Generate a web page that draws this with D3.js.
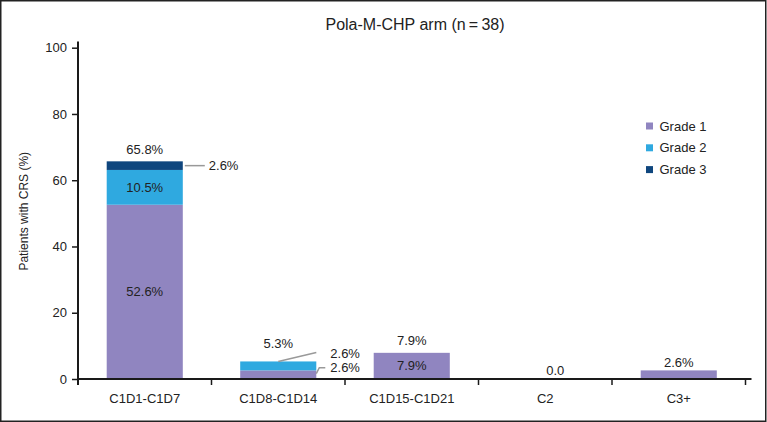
<!DOCTYPE html>
<html>
<head>
<meta charset="utf-8">
<script src="https://cdn.jsdelivr.net/npm/d3@7"></script>
<style>
  html, body { margin: 0; padding: 0; background: #fff; }
  svg { display: block; font-family: "Liberation Sans", Arial, Helvetica, sans-serif; }
  .tick text { font-size: 13px; fill: #222; }
</style>
</head>
<body>
<svg id="chart" width="767" height="422"></svg>
<script>
// data
const categories = ['C1D1-C1D7', 'C1D8-C1D14', 'C1D15-C1D21', 'C2', 'C3+'];
const grades = ['Grade 1', 'Grade 2', 'Grade 3'];
const grade1 = [52.6, 2.6, 7.9, 0, 2.6];
const grade2 = [10.5, 2.7, 0, 0, 0];
const grade3 = [2.6, 0, 0, 0, 0];
const grade1Labels = ['52.6%', '2.6%', '7.9%', '', ''];
const grade2Labels = ['10.5%', '2.6%', '', '', ''];
const grade3Labels = ['2.6%', '', '', '', ''];
const totalLabels = ['65.8%', '5.3%', '7.9%', '0.0', '2.6%'];
const yTicks = [0, 20, 40, 60, 80, 100];

const colors = ['#9085c0', '#2fa9e0', '#0f467e'];

const W = 767, H = 422;
const margin = { left: 78, right: 21.5, top: 47.7, bottom: 43 };

const svg = d3.select('#chart');

// frame round the picture
svg.append('rect')
  .attr('x', 0.75).attr('y', 0.75)
  .attr('width', W - 2).attr('height', H - 1.5)
  .attr('fill', 'none').attr('stroke', '#222').attr('stroke-width', 1.5);

const x = d3.scaleBand()
  .domain(categories)
  .range([margin.left, W - margin.right])
  .paddingInner(0.43)
  .paddingOuter(0.215);

const y = d3.scaleLinear()
  .domain([0, 100])
  .range([H - margin.bottom, margin.top]);

const rows = categories.map((c, i) => ({
  cat: c, 'Grade 1': grade1[i], 'Grade 2': grade2[i], 'Grade 3': grade3[i]
}));
const stacked = d3.stack().keys(grades)(rows);
const segLabels = [grade1Labels, grade2Labels, grade3Labels];

// title
svg.append('text')
  .attr('x', 415).attr('y', 30)
  .attr('text-anchor', 'middle')
  .style('font-size', '16px').attr('fill', '#222')
  .text('Pola-M-CHP arm (n\u2009=\u200938)');

// bars
svg.append('g').selectAll('g')
  .data(stacked)
  .join('g')
  .attr('fill', (d, i) => colors[i])
  .selectAll('rect')
  .data(d => d)
  .join('rect')
  .attr('x', d => x(d.data.cat))
  .attr('width', x.bandwidth())
  .attr('y', d => y(d[1]))
  .attr('height', d => Math.max(0, y(d[0]) - y(d[1])));

// labels inside segments or called out to the right
const labelG = svg.append('g').style('font-size', '13px').attr('fill', '#222');
const leaderG = svg.append('g').attr('stroke', '#999').attr('stroke-width', 1.5).attr('fill', 'none');

stacked.forEach((series, si) => {
  series.forEach((d, ci) => {
    const txt = segLabels[si][ci];
    if (!txt) return;
    const x0 = x(d.data.cat), x1 = x0 + x.bandwidth();
    const yTop = y(d[1]), yBot = y(d[0]);
    const yMid = (yTop + yBot) / 2;
    if (yBot - yTop > 12) {
      labelG.append('text')
        .attr('x', x0 + x.bandwidth() / 2).attr('y', yMid).attr('dy', '0.35em')
        .attr('text-anchor', 'middle').text(txt);
    } else if (si === 2) {
      leaderG.append('path').attr('d', `M${x1 + 2},${yMid}H${x1 + 22}`);
      labelG.append('text').attr('x', x1 + 26).attr('y', yMid).attr('dy', '0.35em').text(txt);
    } else if (si === 1) {
      leaderG.append('path').attr('d', `M${x0 + x.bandwidth() / 2},${yTop}L${x1},${yTop - 9}`);
      labelG.append('text').attr('x', x1 + 14).attr('y', yTop - 8).attr('dy', '0.35em').text(txt);
    } else {
      leaderG.append('path').attr('d', `M${x1},${yMid - 1}L${x1 + 3},${yMid - 7}H${x1 + 9}`);
      labelG.append('text').attr('x', x1 + 14).attr('y', yMid - 7).attr('dy', '0.35em').text(txt);
    }
  });
});

// totals above bars
const lift = [12, 18, 12, 9, 8];
const totals = stacked[stacked.length - 1];
labelG.selectAll('.total')
  .data(totals)
  .join('text')
  .attr('class', 'total')
  .attr('x', (d, i) => x(d.data.cat) + x.bandwidth() / 2 + (i === 3 ? 10 : 0))
  .attr('y', (d, i) => y(d[1]) - lift[i])
  .attr('dy', '0.35em')
  .attr('text-anchor', 'middle')
  .text((d, i) => totalLabels[i]);

// y axis
const yAxis = svg.append('g')
  .attr('transform', `translate(${margin.left},0)`)
  .call(d3.axisLeft(y).tickValues(yTicks).tickSize(6).tickPadding(5));
yAxis.select('.domain').remove();
yAxis.selectAll('.tick line').attr('stroke', '#1a1a1a').attr('stroke-width', 1.5);
svg.append('line')
  .attr('x1', margin.left).attr('x2', margin.left)
  .attr('y1', 41.5).attr('y2', y(0) + 6)
  .attr('stroke', '#1a1a1a').attr('stroke-width', 2);

// x axis
const xAxis = svg.append('g')
  .attr('transform', `translate(0,${y(0)})`)
  .call(d3.axisBottom(x).tickSize(0).tickPadding(15));
xAxis.select('.domain').remove();
svg.append('line')
  .attr('x1', margin.left).attr('x2', W - 15.5)
  .attr('y1', y(0)).attr('y2', y(0))
  .attr('stroke', '#1a1a1a').attr('stroke-width', 2);
const step = x.step();
const firstEdge = x(categories[0]) - (step - x.bandwidth()) / 2;
svg.append('g').selectAll('line')
  .data(d3.range(categories.length + 1))
  .join('line')
  .attr('x1', i => firstEdge + i * step).attr('x2', i => firstEdge + i * step)
  .attr('y1', y(0)).attr('y2', y(0) + 6)
  .attr('stroke', '#1a1a1a').attr('stroke-width', 1.5);

// y axis title
svg.append('text')
  .attr('transform', `translate(28,${(y(0) + 41.5) / 2 + 1}) rotate(-90)`)
  .attr('text-anchor', 'middle')
  .style('font-size', '12px').attr('fill', '#222')
  .text('Patients with CRS (%)');

// legend
const legend = svg.append('g').attr('transform', 'translate(646,126)');
grades.forEach((g, i) => {
  const row = legend.append('g').attr('transform', `translate(0,${i * 21.8})`);
  row.append('rect').attr('x', 0).attr('y', -3.5).attr('width', 7).attr('height', 7).attr('fill', colors[i]);
  row.append('text').attr('x', 13.5).attr('y', 0).attr('dy', '0.35em')
    .style('font-size', '13px').attr('fill', '#222').text(g);
});
</script>
</body>
</html>
